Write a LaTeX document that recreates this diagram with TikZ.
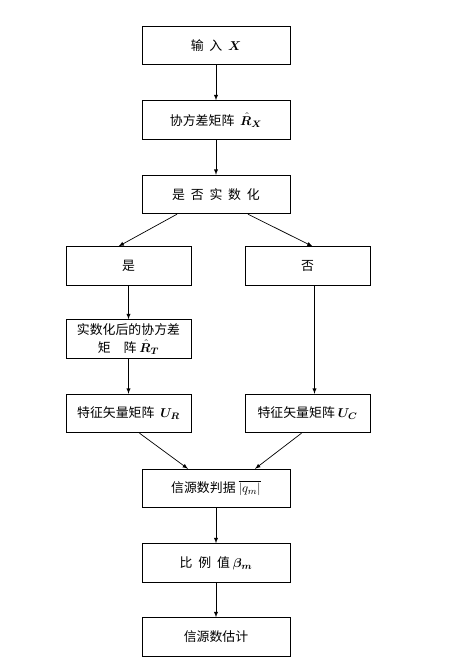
\documentclass[tikz,border=0pt]{standalone}
\usepackage{amsmath}
\usepackage{bm}
\usepackage{fontspec}
\newfontfamily\cjk{Noto Sans CJK SC}
\usepackage{tikz}
\usetikzlibrary{calc,arrows}

\begin{document}
\begin{tikzpicture}[
      x=0.03cm, y=-0.03cm,
      box/.style={
            rectangle, draw, line width=0.6pt,
            minimum width=4.44cm, minimum height=1.16cm,
            inner sep=2pt, text=black,
            font=\cjk\fontsize{11}{15}\selectfont
        },
      side/.style={
            box, minimum width=3.75cm
        },
      ->, >=latex, line width=0.6pt
      ]
    \useasboundingbox (0,0) rectangle (474,661);

    \node[box] (A) at (216,45.5) {输\ \ 入\ \ $\bm{X}$};
    \node[box] (B) at (216,120) {协方差矩阵\ \ $\hat{\bm{R}}_{\bm{X}}$};
    \node[box] (C) at (216,194.5) {是\ \ 否\ \ 实\ \ 数\ \ 化};
    \node[side] (D) at (128.5,266) {是};
    \node[side] (E) at (307.5,266) {否};
    \node[side,align=center] (F) at (128.5,339) {实数化后的协方差\\矩\quad 阵\ $\hat{\bm{R}}_{\bm{T}}$};
    \node[side] (G) at (128.5,413.5) {特征矢量矩阵\ \ $\bm{U_R}$};
    \node[side] (H) at (307.5,413.5) {特征矢量矩阵\ $\bm{U_C}$};
    \node[box] (I) at (216,488.5) {信源数判据\ $\overline{|q_m|}$};
    \node[box] (J) at (216,563) {比\ \ 例\ \ 值\ $\bm{\beta_m}$};
    \node[box] (K) at (216,637) {信源数估计};

    \draw (A) -- (B);
    \draw (B) -- (C);
    \draw ($(C.south)+(-39,0)$) -- ($(D.north)+(-10,0)$);
    \draw ($(C.south)+(32,0)$) -- ($(E.north)+(5,0)$);
    \draw (D) -- (F);
    \draw ($(E.south)+(7,0)$) -- ($(H.north)+(7,0)$);
    \draw (F) -- (G);
    \draw ($(G.south)+(11,0)$) -- ($(I.north)+(-28,0)$);
    \draw ($(H.south)+(-6,0)$) -- ($(I.north)+(39,0)$);
    \draw (I) -- (J);
    \draw (J) -- (K);
  \end{tikzpicture}
\end{document}
